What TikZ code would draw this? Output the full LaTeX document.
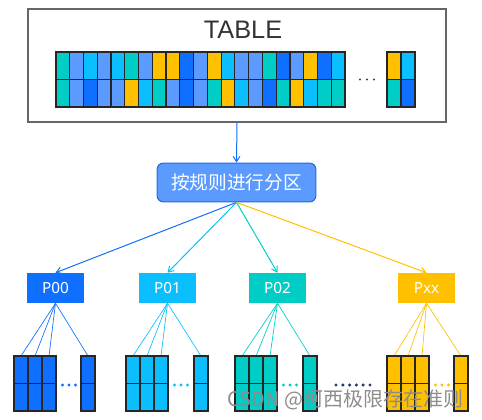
\documentclass[tikz,border=0pt]{standalone}
\usepackage{fontspec}
\setmainfont{Liberation Sans}
\newfontfamily\cjkfont{Noto Sans CJK SC}
\newfontfamily\partfont{Noto Sans}
\usetikzlibrary{arrows.meta}
\definecolor{pblue}{RGB}{15,111,255}
\definecolor{plight}{RGB}{91,155,255}
\definecolor{pcyan}{RGB}{11,191,255}
\definecolor{pteal}{RGB}{0,206,198}
\definecolor{pyellow}{RGB}{255,192,0}
\definecolor{pnavy}{RGB}{45,60,110}
\tikzset{
  cell/.style={draw=black!85, line width=0.9pt},
  part/.style={minimum width=42.75pt, minimum height=22.5pt, inner sep=0pt,
    text=white, font=\partfont\fontsize{11.5}{12}\selectfont},
  link/.style={line width=0.75pt, -{Straight Barb[length=4pt,width=5pt]}},
  fan/.style={line width=0.5pt},
  dot/.style={circle, inner sep=0pt, minimum size=2.6pt}
}
\begin{document}
\begin{tikzpicture}[x=0.75pt, y=-0.75pt]
  \useasboundingbox (0,0) rectangle (482,420);
  % the table
  \draw[draw=black!60, line width=1.2pt] (28,9) rectangle (446,122);
  \node[text=black!80, font=\fontsize{19}{20}\selectfont] (title) at (243,30) {TABLE};
  \foreach \c [count=\i from 0] in {pteal,plight,pcyan,plight,pcyan,pteal,plight,pyellow,pyellow,pblue,plight,pyellow,pcyan,plight,plight,pteal,pblue,plight,pyellow,pblue,pcyan}
    \draw[cell, fill=\c] ({56+\i*13.76},52) rectangle ++(13.76,27.5);
  \foreach \c [count=\i from 0] in {pteal,plight,pblue,plight,plight,pyellow,pcyan,pteal,plight,pblue,plight,pteal,pyellow,pcyan,plight,pblue,pteal,pyellow,pcyan,pteal,pteal}
    \draw[cell, fill=\c] ({56+\i*13.76},79.5) rectangle ++(13.76,27.5);
  \foreach \i in {0,1,2}
    \fill[black!75] ({360+\i*7},79.5) circle (1.1);
  \draw[cell, fill=pyellow] (387,52) rectangle ++(14,27.5);
  \draw[cell, fill=pcyan] (401,52) rectangle ++(14,27.5);
  \draw[cell, fill=pteal] (387,79.5) rectangle ++(14,27.5);
  \draw[cell, fill=pblue] (401,79.5) rectangle ++(14,27.5);
  \coordinate (tablebottom) at (237,122);
  % the rule node
  \node[draw={rgb,255:red,40;green,105;blue,215}, fill=plight, rounded corners=4.5pt,
    line width=0.8pt, minimum width=119pt, minimum height=29pt, text=white,
    font=\cjkfont\fontsize{14}{15}\selectfont] (split) at (236.5,182.5) {按规则进行分区};
  \draw[link, pblue] (tablebottom) -- (split.north);
  % the partitions
  \node[part, fill=pblue] (p00) at (55.5,288) {P00};
  \node[part, fill=pcyan] (p01) at (167.5,288) {P01};
  \node[part, fill=pteal] (p02) at (277.5,288) {P02};
  \node[part, fill=pyellow] (pxx) at (426.5,288) {Pxx};
  \draw[link, pblue] (split.south) -- (p00.north);
  \draw[link, pcyan] (split.south) -- (p01.north);
  \draw[link, pteal] (split.south) -- (p02.north);
  \draw[link, pyellow] (split.south) -- (pxx.north);
  % the blocks of each partition
  \foreach \name/\col/\xa/\xb in {p00/pblue/14/81, p01/pcyan/126/194, p02/pteal/235/303, pxx/pyellow/387/454} {
    \foreach \k in {0,1,2} {
      \coordinate (\name-\k) at ({\xa+\k*14+7},356);
      \draw[fan, \col] (\name.south) -- (\name-\k);
      \draw[cell, fill=\col] ({\xa+\k*14},356) rectangle ++(14,27.5);
      \draw[cell, fill=\col] ({\xa+\k*14},383.5) rectangle ++(14,27.5);
    }
    \coordinate (\name-n) at ({\xb+7},356);
    \draw[fan, \col] (\name.south) -- (\name-n);
    \draw[cell, fill=\col] (\xb,356) rectangle ++(14,27.5);
    \draw[cell, fill=\col] (\xb,383.5) rectangle ++(14,27.5);
    \foreach \i in {0,1,2}
      \node[dot, fill=\col] at ({\xa+48.5+\i*6.5},385) {};
  }
  \foreach \i in {0,...,5}
    \node[dot, fill=pnavy] at ({336+\i*6.8},385) {};
  \node[text=black!45, font=\cjkfont\fontsize{15}{16}\selectfont, anchor=east] (mark) at (468,400) {CSDN @柯西极限存在准则};
\end{tikzpicture}
\end{document}
